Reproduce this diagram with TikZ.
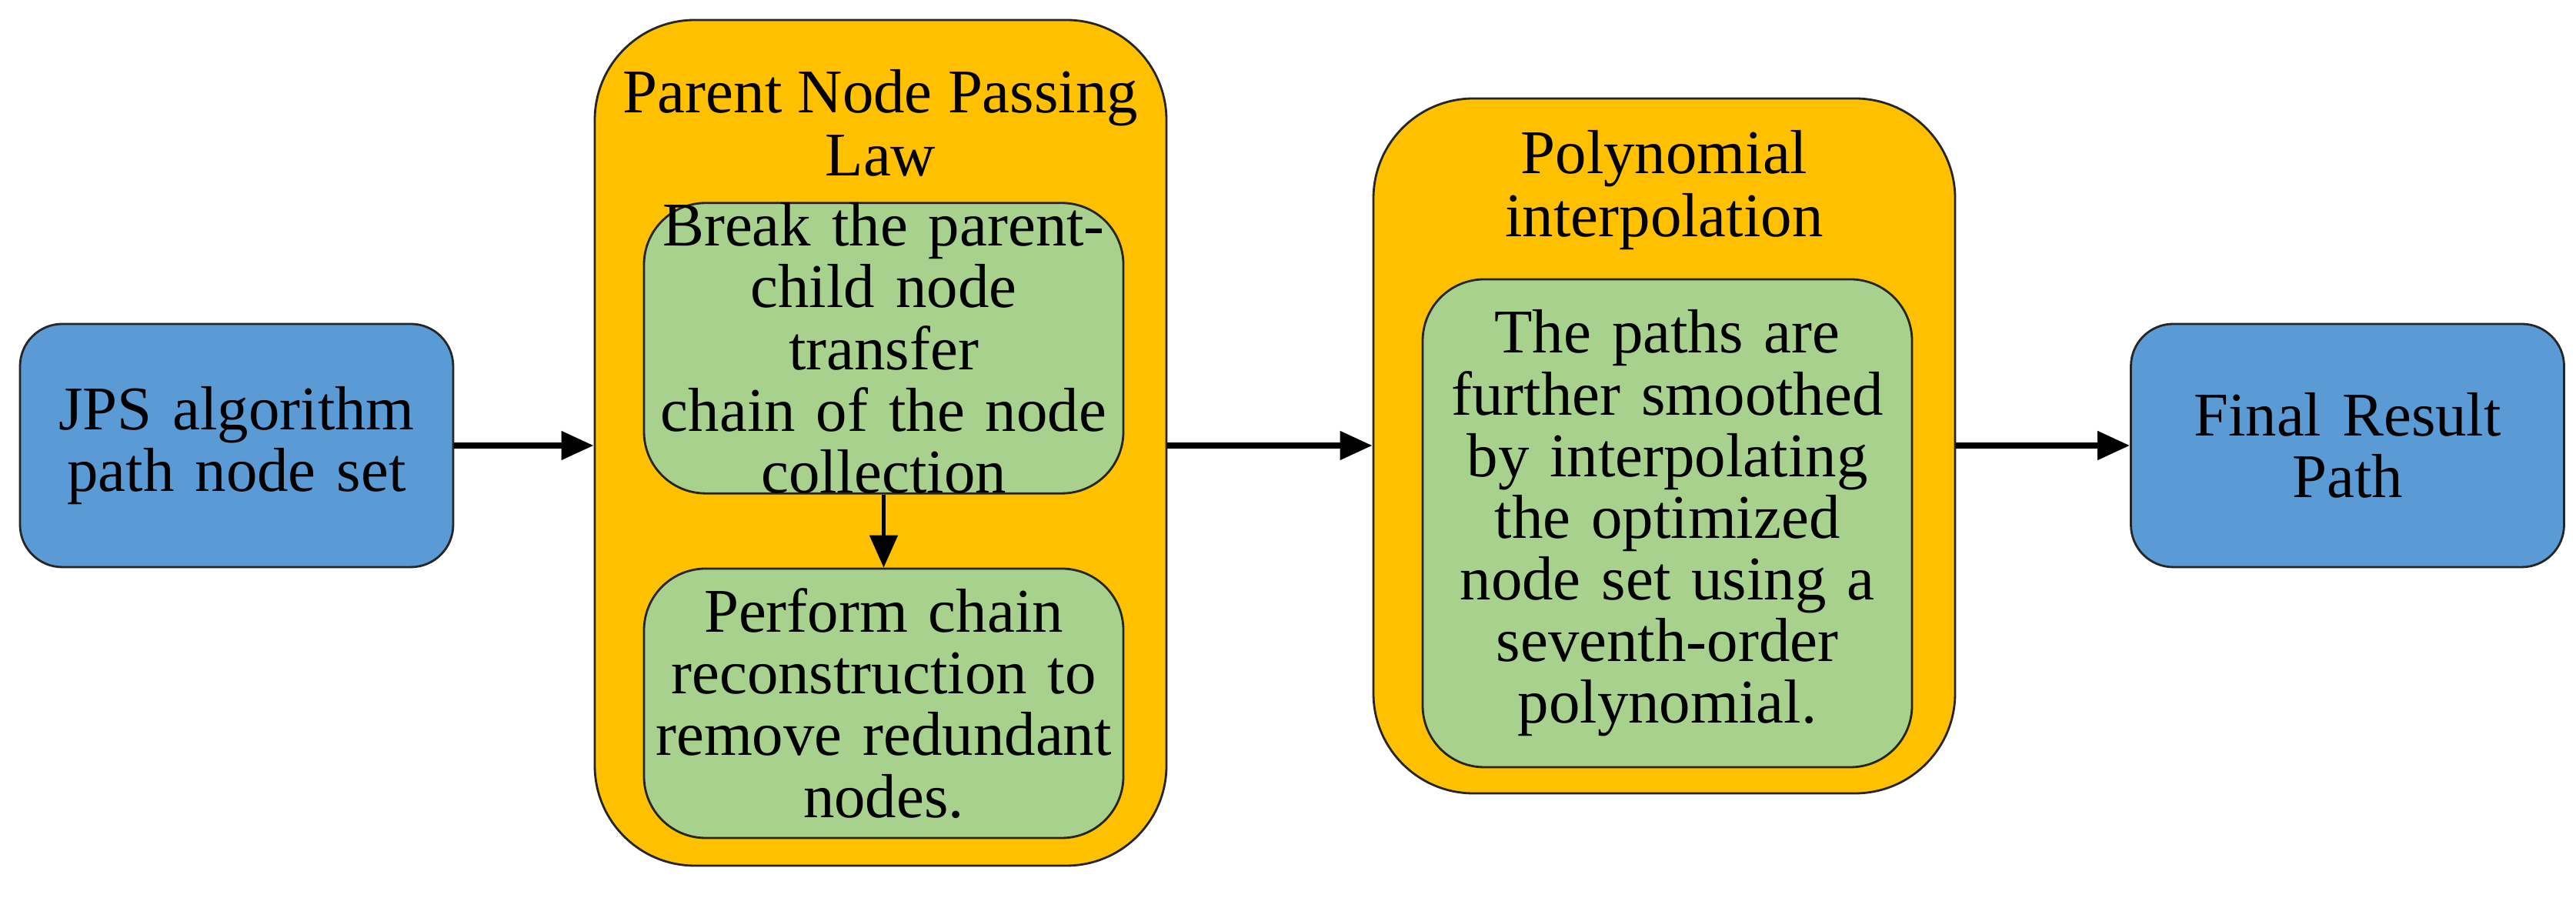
\documentclass[tikz,border=0pt]{standalone}
\usepackage{fontspec}
\setmainfont{Liberation Serif}
\usetikzlibrary{arrows.meta}
\definecolor{boxblue}{HTML}{5B9BD5}
\definecolor{boxorange}{HTML}{FFC000}
\definecolor{boxgreen}{HTML}{A9D18E}
\begin{document}
\begin{tikzpicture}[
  base/.style={draw=black!85, line width=0.8pt, align=center, font=\fontsize{23}{22.8}\selectfont, inner sep=0pt},
  blue box/.style={base, fill=boxblue, rounded corners=0.55cm, minimum width=5.63cm, minimum height=3.16cm, text width=5.4cm},
  outer/.style={base, fill=boxorange, rounded corners=1.3cm},
  inner/.style={base, fill=boxgreen, rounded corners=0.8cm, text width=6.1cm},
  title/.style={align=center, font=\fontsize{23}{23.5}\selectfont, inner sep=0pt},
  link/.style={-{Triangle[length=0.42cm,width=0.36cm]}, line width=2.2pt}
]
\useasboundingbox (0,0) rectangle (33.48,11.67);
% outer containers
\node[outer, minimum width=7.43cm, minimum height=10.99cm] (law) at (11.445,5.915) {};
\node[outer, minimum width=7.56cm, minimum height=9.03cm] (poly) at (21.63,5.875) {};
% titles
\node[title] (lawt) at (11.445,10.07) {Parent Node Passing\\Law};
\node[title] (polyt) at (21.63,9.2) {Polynomial\\interpolation};
% inner steps
\node[inner, minimum width=6.23cm, minimum height=3.59cm] (brk) at (11.485,7.145) {Break the parent-\\child node transfer\\chain of the node\\collection};
\node[inner, minimum width=6.23cm, minimum height=3.5cm] (rec) at (11.485,2.53) {Perform chain\\reconstruction to\\remove redundant\\nodes.};
\node[inner, minimum width=6.36cm, minimum height=6.34cm] (smo) at (21.67,4.87) {The paths are\\further smoothed\\by interpolating\\the optimized\\node set using a\\seventh-order\\polynomial.};
% end points
\node[blue box] (jps) at (3.075,5.88) {JPS algorithm\\path node set};
\node[blue box] (res) at (30.51,5.88) {Final Result\\Path};
% connectors
\draw[link] (jps.east) -- (jps.east -| law.west);
\draw[link] (law.east |- jps.east) -- (poly.west |- jps.east);
\draw[link] (poly.east |- res.west) -- (res.west);
\draw[link, line width=1.4pt] (brk.south) -- (rec.north);
\end{tikzpicture}
\end{document}
